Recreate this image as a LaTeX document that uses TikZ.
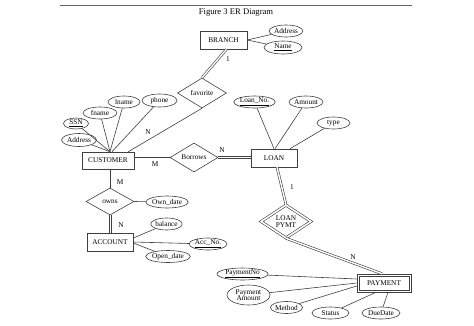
\documentclass[tikz,border=0pt]{standalone}
\usepackage{fontspec}
\setmainfont{Liberation Serif}
\usetikzlibrary{shapes.geometric}
\newcommand{\fsz}{\fontsize{7.3}{7.6}\selectfont}
\newcommand{\tsz}{\fontsize{8.6}{9}\selectfont}
\begin{document}
\begin{tikzpicture}[x=1pt,y=-1pt,
  ln/.style={draw=black!75, line width=0.6pt},
  dbl/.style={draw=black!75, line width=0.6pt, double=white, double distance=1.4pt},
  ent/.style={rectangle, draw=black!75, line width=0.6pt, inner sep=0pt, font=\fsz},
  attr/.style={ellipse, draw=black!75, line width=0.6pt, inner sep=0pt, font=\fsz, align=center},
  rel/.style={diamond, aspect=1.65, draw=black!75, line width=0.6pt, inner sep=0pt, font=\fsz, align=center},
  card/.style={inner sep=0pt, font=\fsz}]
\useasboundingbox (0,0) rectangle (474,325);
\fill[white] (0,0) rectangle (474,325);
\draw[black!60, line width=0.8pt] (60,5) -- (412,5);
\node[inner sep=0pt, font=\tsz] (title) at (236,13) {Figure 3 ER Diagram};
% entities
\node[ent, minimum width=47pt, minimum height=18pt] (branch) at (223.5,40) {BRANCH};
\node[ent, minimum width=52pt, minimum height=17pt] (cust) at (108,160.5) {CUSTOMER};
\node[ent, minimum width=46pt, minimum height=18pt] (loan) at (274,158) {LOAN};
\node[ent, minimum width=46pt, minimum height=18pt] (account) at (110,242) {ACCOUNT};
\node[ent, minimum width=54pt, minimum height=18pt] (pay) at (384,283) {PAYMENT};
\draw[ln] ([xshift=2.2pt,yshift=-2.2pt]pay.north west) rectangle ([xshift=-2.2pt,yshift=2.2pt]pay.south east);
% attributes
\node[attr, minimum width=33pt, minimum height=12pt] (baddr) at (286,31) {Address};
\node[attr, minimum width=38pt, minimum height=13pt] (bname) at (283,47.5) {\underline{Name}};
\node[attr, minimum width=32pt, minimum height=12pt] (lname) at (124,102) {lname};
\node[attr, minimum width=35pt, minimum height=13pt] (phone) at (159.5,100.5) {phone};
\node[attr, minimum width=34pt, minimum height=12pt] (fname) at (100,113) {fname};
\node[attr, minimum width=25pt, minimum height=11pt] (ssn) at (76,123.5) {\underline{SSN}};
\node[attr, minimum width=35pt, minimum height=13pt] (caddr) at (79,140) {Address};
\node[attr, minimum width=37pt, minimum height=12pt] (loanno) at (254.5,102) {\underline{Loan\_No.}};
\node[attr, minimum width=34pt, minimum height=12pt] (amount) at (306,102) {Amount};
\node[attr, minimum width=33pt, minimum height=12pt] (type) at (333.5,123) {type};
\node[attr, minimum width=40pt, minimum height=12pt] (owndate) at (167,202) {Own\_date};
\node[attr, minimum width=31pt, minimum height=12pt] (balance) at (166.5,224) {balance};
\node[attr, minimum width=38pt, minimum height=12pt] (accno) at (208,244) {\underline{Acc\_No.}};
\node[attr, minimum width=40pt, minimum height=12pt] (opendate) at (168,256.5) {Open\_date};
\node[attr, minimum width=51pt, minimum height=12pt] (payno) at (242.5,274) {\underline{PaymentNo}};
\node[attr, minimum width=43pt, minimum height=20pt] (payamt) at (248.5,295) {Payment\\[-1pt]Amount};
\node[attr, minimum width=31pt, minimum height=12pt] (method) at (286.5,307.5) {Method};
\node[attr, minimum width=37pt, minimum height=12pt] (status) at (330.5,313) {Status};
\node[attr, minimum width=38pt, minimum height=12pt] (duedate) at (381,313) {DueDate};
% relationships
\node[rel, minimum width=49pt, minimum height=30pt] (fav) at (202,93) {favorite};
\node[rel, minimum width=48pt, minimum height=29pt] (borrows) at (194,157.5) {Borrows};
\node[rel, minimum width=48pt, minimum height=27pt] (owns) at (110,201.5) {owns};
\node[rel, double=white, double distance=1.6pt, minimum width=50pt, minimum height=33pt] (lp) at (286,221.5) {LOAN\\[-1pt]PYMT};
% cardinalities
\node[card] (c1) at (228,59) {1};
\node[card] (c2) at (148,132) {N};
\node[card] (c3) at (155,164) {M};
\node[card] (c4) at (222,150) {N};
\node[card] (c5) at (292,187) {1};
\node[card] (c6) at (120,182) {M};
\node[card] (c7) at (121,225) {N};
\node[card] (c8) at (353,257) {N};
% connectors
\draw[ln] (branch.east) -- (baddr);
\draw[ln] (branch.east) -- (bname);
\draw[dbl] ([xshift=3pt]branch.south) -- (fav.north);
\draw[ln] ([xshift=-6pt]cust.north east) -- (fav.south);
\draw[ln] (caddr) -- ([xshift=2pt]cust.north);
\draw[ln] (ssn) -- ([xshift=2pt]cust.north);
\draw[ln] (fname) -- ([xshift=2pt]cust.north);
\draw[ln] (lname) -- ([xshift=2pt]cust.north);
\draw[ln] (phone) -- ([xshift=4pt]cust.north);
\draw[ln] (cust.east |- borrows.west) -- (borrows.west);
\draw[dbl] (borrows.east) -- (loan.west |- borrows.east);
\draw[ln] (loanno) -- (loan.north);
\draw[ln] (amount) -- ([xshift=1pt]loan.north);
\draw[ln] (type) -- ([xshift=16pt]loan.north);
\draw[dbl] ([xshift=3pt]loan.south) -- (lp.north);
\draw[dbl] (lp.south) -- ([xshift=-2pt]pay.north);
\draw[ln] (payno) -- ([yshift=4pt]pay.west);
\draw[ln] (payamt) -- (pay.west);
\draw[ln] (method) -- ([yshift=-3pt]pay.west);
\draw[ln] (status) -- ([xshift=-8pt]pay.south);
\draw[ln] (duedate) -- ([xshift=4pt]pay.south);
\draw[ln] (owns.north |- cust.south) -- (owns.north);
\draw[ln] (owns.east) -- (owndate);
\draw[dbl] ([xshift=0.5pt]owns.south) -- ([xshift=0.5pt]account.north);
\draw[ln] ([yshift=4pt]account.east) -- (balance);
\draw[ln] (account.east) -- (accno);
\draw[ln] ([yshift=-1pt]account.east) -- (opendate);
\end{tikzpicture}
\end{document}
